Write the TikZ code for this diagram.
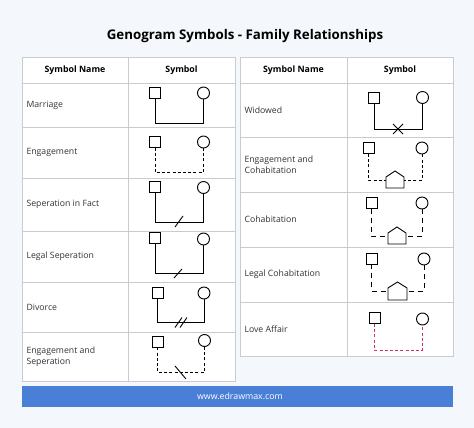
\documentclass[tikz,border=0pt]{standalone}
\usepackage{fontspec}
\setmainfont{Open Sans}
\usetikzlibrary{calc, positioning}
\definecolor{pagebg}{HTML}{F4F7FB}
\definecolor{gridgray}{HTML}{C8CCD2}
\definecolor{inkgray}{HTML}{333333}
\definecolor{barblue}{HTML}{4A7FD7}
\definecolor{affair}{HTML}{D0305E}

\begin{document}
\begin{tikzpicture}[x=1pt, y=-1pt,
  grid/.style={gridgray, line width=0.8pt},
  head/.style={text=black, font=\fontsize{8.8}{10}\selectfont\bfseries},
  cellname/.style={anchor=west, text=inkgray, align=left, font=\fontsize{8.7}{11}\selectfont},
  male/.style={draw, line width=0.9pt, fill=white, minimum size=11pt, inner sep=0pt},
  female/.style={draw, circle, line width=0.9pt, fill=white, minimum size=12pt, inner sep=0pt},
  rel/.style={line width=0.9pt},
  engage/.style={line width=0.9pt, dash pattern=on 3pt off 2.2pt},
  cohab/.style={line width=0.9pt, dash pattern=on 5pt off 4pt},
  affairline/.style={affair, line width=0.9pt, dash pattern=on 3pt off 2.2pt}]

% Background
\fill[pagebg] (0,0) rectangle (474,428);
\useasboundingbox (0,0) rectangle (474,428);

% Title
\node[text=black, font=\fontsize{13.3}{15}\selectfont\bfseries] (title) at (245,36)
  {Genogram Symbols - Family Relationships};

% Left table
\fill[white] (22,57) rectangle (235,381);
\foreach \y in {83,127,178,231,282,332}
  \draw[grid] (22,\y) -- (235,\y);
\draw[grid] (128,57) -- (128,381);
\draw[grid] (22,57) rectangle (235,381);

% Right table
\fill[white] (240,57) rectangle (453,356);
\foreach \y in {83,137,192,247,302}
  \draw[grid] (240,\y) -- (453,\y);
\draw[grid] (347,57) -- (347,356);
\draw[grid] (240,57) rectangle (453,356);

% Headers
\node[head] (lh1) at (75,70) {Symbol Name};
\node[head] (lh2) at (181.5,70) {Symbol};
\node[head] (rh1) at (293.5,70) {Symbol Name};
\node[head] (rh2) at (400,70) {Symbol};

% Names, left
\node[cellname] (n1) at (23,105) {Marriage};
\node[cellname] (n2) at (23,152.5) {Engagement};
\node[cellname] (n3) at (23,204.5) {Seperation in Fact};
\node[cellname] (n4) at (23,256.5) {Legal Seperation};
\node[cellname] (n5) at (23,307) {Divorce};
\node[cellname] (n6) at (23,356.5) {Engagement and\\Seperation};

% Names, right
\node[cellname] (n7) at (241,110) {Widowed};
\node[cellname] (n8) at (241,164.5) {Engagement and\\Cohabitation};
\node[cellname] (n9) at (241,219.5) {Cohabitation};
\node[cellname] (n10) at (241,274.5) {Legal Cohabitation};
\node[cellname] (n11) at (241,329) {Love Affair};

% Marriage
\node[male] (m1) at (155,92.5) {};
\node[female] (f1) at (203.5,93) {};
\coordinate (b1) at (155,123);
\draw[rel] (m1.south) -- (b1) -| (f1.south);

% Engagement
\node[male] (m2) at (155,142) {};
\node[female] (f2) at (203.5,142) {};
\coordinate (b2) at (155,172);
\draw[engage] (m2.south) -- (b2) -| (f2.south);

% Seperation in fact
\node[male] (m3) at (155,187) {};
\node[female] (f3) at (203.5,187.5) {};
\coordinate (b3) at (155,222);
\draw[rel] (m3.south) -- (b3) -| (f3.south);
\coordinate (s3) at (179,222);
\draw[rel] ($(s3)+(-4,5)$) -- ($(s3)+(4,-6)$);

% Legal seperation
\node[male] (m4) at (155,238) {};
\node[female] (f4) at (203.5,239) {};
\coordinate (b4) at (155,273);
\draw[rel] (m4.south) -- (b4) -| (f4.south);
\coordinate (s4) at (178,273);
\draw[rel] ($(s4)+(-4,5)$) -- ($(s4)+(4,-4)$);

% Divorce
\node[male] (m5) at (157.5,292.5) {};
\node[female] (f5) at (204,293) {};
\coordinate (b5) at (157.5,322.5);
\draw[rel] (m5.south) -- (b5) -| (f5.south);
\coordinate (s5) at (181,322.5);
\draw[rel] ($(s5)+(-6,5)$) -- ($(s5)+(1,-5)$);
\draw[rel] ($(s5)+(-1,5)$) -- ($(s5)+(6,-5)$);

% Engagement and seperation
\node[male] (m6) at (157.5,341.5) {};
\node[female] (f6) at (204.5,340.5) {};
\coordinate (b6) at (157.5,372);
\draw[engage] (m6.south) -- (b6) -| (f6.south);
\coordinate (s6) at (181,372);
\draw[rel] ($(s6)+(-6,-6)$) -- ($(s6)+(5,7)$);

% Widowed
\node[male] (m7) at (374,97.5) {};
\node[female] (f7) at (422.5,97.5) {};
\coordinate (b7) at (374,129);
\draw[rel] (m7.south) -- (b7) -| (f7.south);
\coordinate (x7) at (398,129);
\draw[rel] ($(x7)+(-5,-5)$) -- ($(x7)+(5,5)$);
\draw[rel] ($(x7)+(-5,5)$) -- ($(x7)+(5,-5)$);

% Engagement and cohabitation
\node[male] (m8) at (368.5,148) {};
\node[female] (f8) at (422,148) {};
\coordinate (h8) at (395,180);
\draw[rel, fill=white] ($(h8)+(-9,8)$) -- ++(0,-11) -- ++(9,-6) -- ++(9,6) -- ++(0,11) -- cycle;
\draw[engage] (m8.south) |- ($(h8)+(-9,0)$);
\draw[engage] (f8.south) |- ($(h8)+(9,0)$);

% Cohabitation
\node[male] (m9) at (371.5,203) {};
\node[female] (f9) at (422,203) {};
\coordinate (h9) at (397,236);
\draw[rel, fill=white] ($(h9)+(-9,8)$) -- ++(0,-11) -- ++(9,-6) -- ++(9,6) -- ++(0,11) -- cycle;
\draw[cohab] (m9.south) |- ($(h9)+(-9,0)$);
\draw[cohab] (f9.south) |- ($(h9)+(9,0)$);

% Legal cohabitation
\node[male] (m10) at (371.5,258.5) {};
\node[female] (f10) at (424,259) {};
\coordinate (h10) at (397.5,291);
\draw[rel, fill=white] ($(h10)+(-9.5,9)$) -- ++(0,-12) -- ++(9.5,-6) -- ++(9.5,6) -- ++(0,12) -- cycle;
\draw[cohab] (m10.south) |- ($(h10)+(-9.5,0)$);
\draw[cohab] (f10.south) |- ($(h10)+(9.5,0)$);

% Love affair
\node[male] (m11) at (374.5,318) {};
\node[female] (f11) at (422.5,319) {};
\coordinate (b11) at (374.5,350);
\draw[affairline] (m11.south) -- (b11) -| (f11.south);

% Footer
\fill[barblue] (22,386) rectangle (453,407);
\node[text=white, font=\fontsize{8.8}{10}\selectfont] (site) at (240,396.5) {www.edrawmax.com};

\end{tikzpicture}
\end{document}
